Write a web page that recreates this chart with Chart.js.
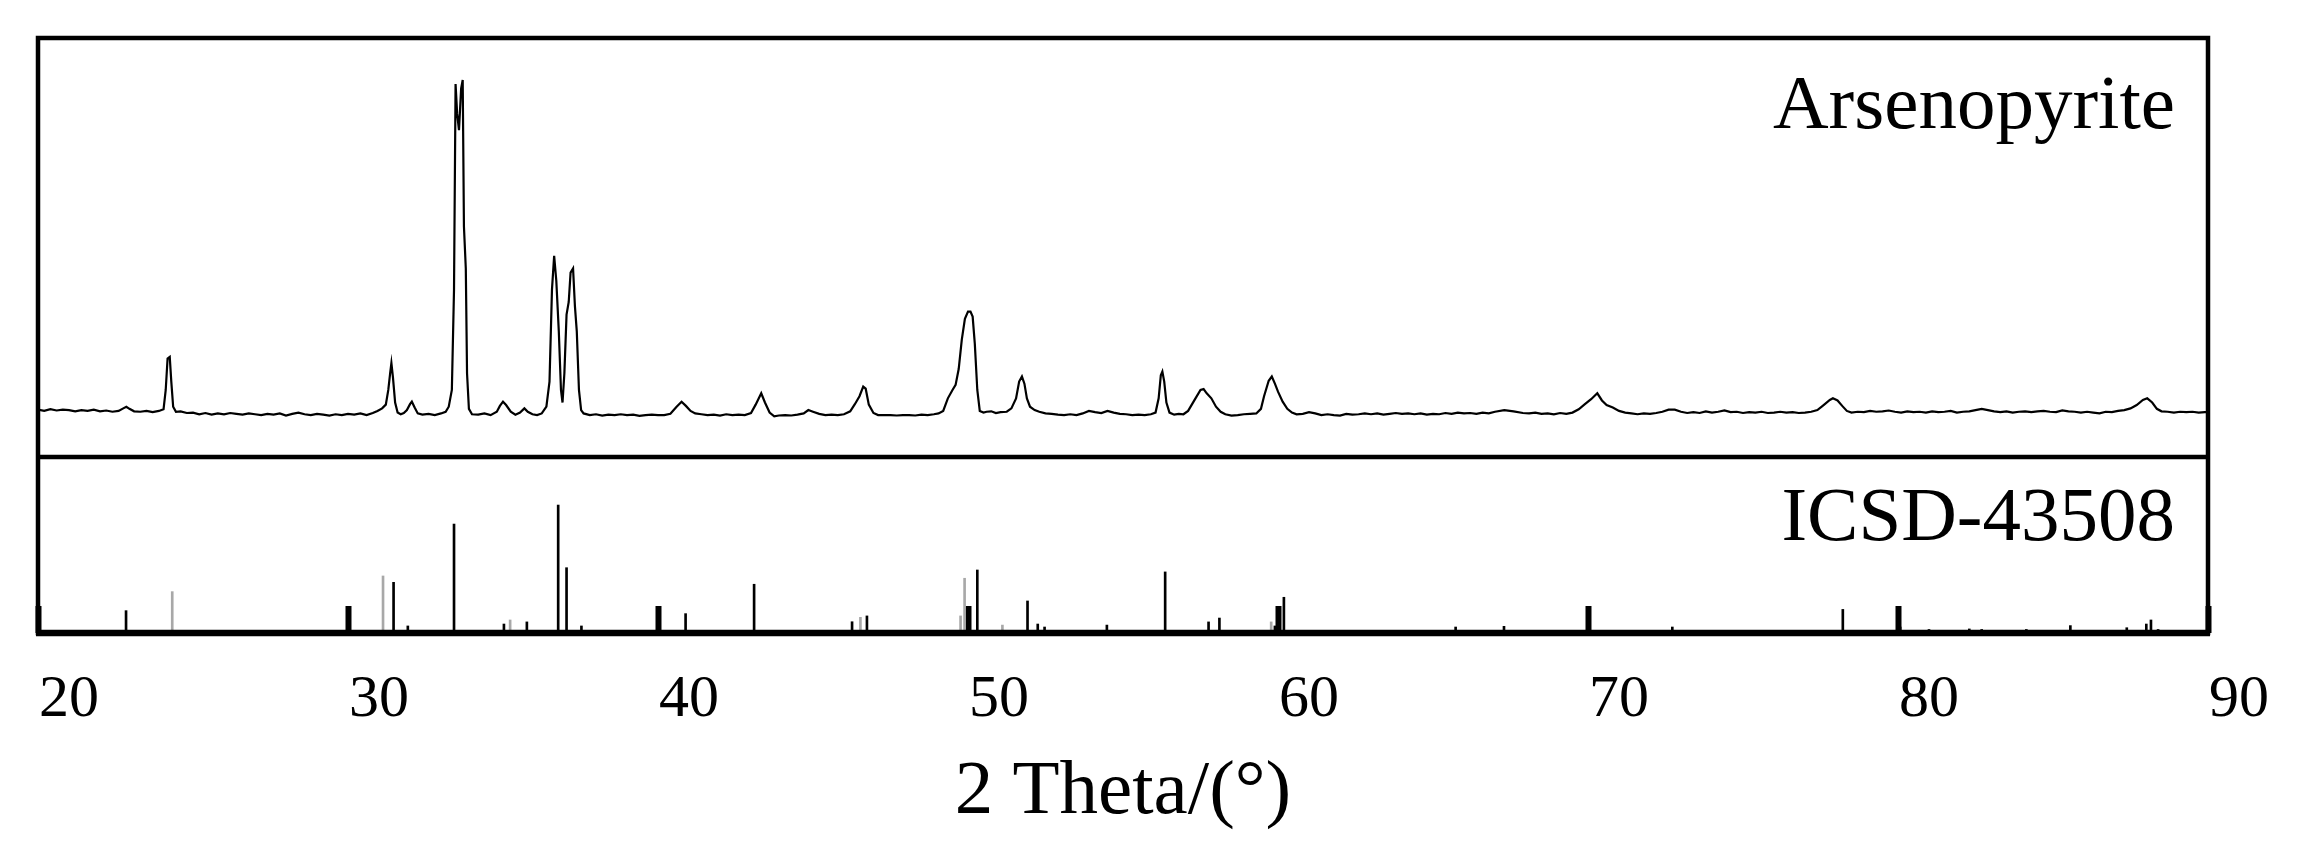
<!DOCTYPE html>
<html>
<head>
<meta charset="utf-8">
<title>Arsenopyrite XRD</title>
<script src="https://cdn.jsdelivr.net/npm/chart.js@4/dist/chart.umd.min.js"></script>
<style>
  html, body { margin: 0; padding: 0; background: #fff; }
  canvas { display: block; }
</style>
</head>
<body>
<canvas id="xrdChart" width="2298" height="859" style="width:2298px;height:859px"></canvas>
<script>
const arsenopyrite = [
  [20.0,11.3],[20.2,11.0],[20.4,11.4],[20.6,11.1],[20.8,11.3],[21.0,11.2],[21.2,10.9],[21.4,11.2],[21.6,11.0],[21.8,11.3],
  [22.0,10.9],[22.2,11.1],[22.4,10.8],[22.6,11.0],[22.75,11.6],[22.85,12.0],[22.95,11.5],[23.1,10.9],[23.3,10.8],[23.5,11.0],
  [23.7,10.7],[23.9,11.0],[24.05,11.4],[24.12,16],[24.18,23.5],[24.25,23.9],[24.3,18],[24.36,12],[24.45,10.8],[24.6,10.9],
  [24.8,10.5],[25.0,10.6],[25.2,10.2],[25.4,10.5],[25.6,10.1],[25.8,10.4],[26.0,10.2],[26.2,10.5],[26.4,10.3],[26.6,10.1],
  [26.8,10.4],[27.0,10.2],[27.2,10.0],[27.4,10.3],[27.6,10.1],[27.8,10.4],[28.0,9.9],[28.2,10.3],[28.4,10.6],[28.6,10.2],
  [28.8,10.0],[29.0,10.3],[29.2,10.1],[29.4,9.9],[29.6,10.2],[29.8,10.0],[30.0,10.3],[30.2,10.1],[30.4,10.4],[30.6,10.0],
  [30.8,10.5],[30.95,11.0],[31.1,11.6],[31.22,12.5],[31.3,16],[31.36,20],[31.4,22.4],[31.45,19],[31.52,13],[31.6,10.6],
  [31.7,10.2],[31.8,10.5],[31.9,11.2],[32.0,12.6],[32.06,13.2],[32.15,11.8],[32.25,10.4],[32.4,10.1],[32.6,10.3],[32.8,10.0],
  [33.0,10.4],[33.15,10.8],[33.25,12],[33.35,16],[33.42,40],[33.47,89],[33.52,82],[33.58,78],[33.65,88],[33.7,90],
  [33.74,55],[33.8,45],[33.84,20],[33.9,11.5],[34.0,10.2],[34.2,10.1],[34.4,10.4],[34.6,10.0],[34.8,10.8],[34.9,12.2],
  [35.0,13.2],[35.1,12.4],[35.25,10.8],[35.4,10.1],[35.55,10.6],[35.69,11.6],[35.8,10.8],[35.95,10.2],[36.1,10.0],[36.25,10.4],
  [36.4,12],[36.5,18],[36.58,40],[36.65,48],[36.72,42],[36.8,30],[36.87,16],[36.92,13],[36.98,20],[37.05,34],
  [37.12,37],[37.18,44],[37.26,45],[37.32,36],[37.38,30],[37.45,16],[37.52,11.2],[37.6,10.4],[37.8,10.0],[38.0,10.2],
  [38.2,9.9],[38.4,10.1],[38.6,10.0],[38.8,10.2],[39.0,10.0],[39.2,10.1],[39.4,9.8],[39.6,10.0],[39.8,10.1],[40.0,10.0],
  [40.2,10.0],[40.4,10.3],[40.6,12.0],[40.76,13.2],[40.9,12.2],[41.05,11.0],[41.2,10.4],[41.4,10.2],[41.6,10.0],[41.8,10.1],
  [42.0,9.9],[42.2,10.2],[42.4,10.0],[42.6,10.1],[42.8,10.0],[43.0,10.5],[43.15,12.5],[43.33,15.2],[43.45,13],[43.6,10.6],
  [43.75,9.7],[43.9,9.9],[44.1,10.0],[44.3,9.9],[44.5,10.1],[44.7,10.4],[44.85,11.2],[45.0,10.8],[45.2,10.3],[45.4,10.0],
  [45.6,10.1],[45.8,10.0],[46.0,10.2],[46.2,10.9],[46.35,12.6],[46.5,14.5],[46.62,16.8],[46.7,16.3],[46.8,12.5],[46.95,10.5],
  [47.1,10.0],[47.3,10.0],[47.5,10.0],[47.7,9.9],[47.9,10.0],[48.1,10.0],[48.3,9.9],[48.5,10.1],[48.7,10.0],[48.9,10.2],
  [49.05,10.4],[49.2,11.0],[49.35,14],[49.5,16.0],[49.6,17.2],[49.7,21],[49.8,28],[49.9,33],[50.0,34.7],[50.08,34.7],
  [50.15,33.5],[50.22,27],[50.3,16],[50.38,11],[50.5,10.6],[50.6,10.8],[50.75,10.9],[50.9,10.5],[51.05,10.7],[51.25,10.8],
  [51.4,11.6],[51.55,14],[51.65,18],[51.74,19.2],[51.82,17.5],[51.9,14],[52.0,12],[52.15,11.2],[52.3,10.8],[52.5,10.4],
  [52.7,10.3],[52.9,10.1],[53.1,10.0],[53.3,10.2],[53.5,10.0],[53.7,10.4],[53.9,11.0],[54.1,10.7],[54.3,10.5],[54.5,11.0],
  [54.7,10.6],[54.9,10.3],[55.1,10.2],[55.3,10.0],[55.5,10.1],[55.7,10.0],[55.9,10.2],[56.05,10.6],[56.15,14],[56.22,19.5],
  [56.27,20.4],[56.33,18],[56.4,13],[56.5,10.6],[56.65,10.1],[56.8,10.3],[56.95,10.2],[57.1,11.0],[57.3,13.5],[57.5,16.0],
  [57.6,16.2],[57.7,15.2],[57.85,14.0],[58.0,12.0],[58.15,10.8],[58.3,10.2],[58.5,9.9],[58.7,10.0],[58.9,10.2],[59.1,10.3],
  [59.3,10.4],[59.45,11.5],[59.55,14.5],[59.7,18.2],[59.8,19.2],[59.9,17.5],[60.0,15.6],[60.15,13.2],[60.3,11.5],[60.45,10.6],
  [60.6,10.2],[60.8,10.3],[61.0,10.7],[61.2,10.4],[61.4,10.0],[61.6,10.2],[61.8,10.0],[62.0,9.9],[62.2,10.3],[62.4,10.1],
  [62.6,10.2],[62.8,10.4],[63.0,10.2],[63.2,10.4],[63.4,10.1],[63.6,10.3],[63.8,10.5],[64.0,10.3],[64.2,10.4],[64.4,10.2],
  [64.6,10.4],[64.8,10.1],[65.0,10.3],[65.2,10.2],[65.4,10.5],[65.6,10.3],[65.8,10.6],[66.0,10.4],[66.2,10.5],[66.4,10.3],
  [66.6,10.6],[66.8,10.4],[67.0,10.8],[67.3,11.2],[67.6,10.9],[67.9,10.5],[68.1,10.4],[68.3,10.6],[68.5,10.3],[68.7,10.4],
  [68.9,10.2],[69.1,10.5],[69.3,10.3],[69.5,10.6],[69.7,11.4],[69.9,12.6],[70.1,13.8],[70.3,15.2],[70.45,13.5],[70.6,12.4],
  [70.8,11.8],[71.0,11.0],[71.2,10.6],[71.4,10.4],[71.6,10.2],[71.8,10.4],[72.0,10.3],[72.2,10.5],[72.4,10.8],[72.6,11.3],
  [72.8,11.3],[73.0,10.8],[73.2,10.5],[73.4,10.7],[73.6,10.5],[73.8,10.9],[74.0,10.6],[74.2,10.8],[74.4,11.1],[74.6,10.7],
  [74.8,10.8],[75.0,10.5],[75.2,10.7],[75.4,10.6],[75.6,10.8],[75.8,10.5],[76.0,10.6],[76.2,10.8],[76.4,10.6],[76.6,10.7],
  [76.8,10.5],[77.0,10.6],[77.2,10.8],[77.4,11.2],[77.6,12.4],[77.8,13.6],[77.9,14.0],[78.05,13.5],[78.2,12.2],[78.35,11.0],
  [78.5,10.6],[78.7,10.8],[78.9,10.7],[79.1,11.0],[79.3,10.8],[79.5,10.9],[79.7,11.1],[79.9,10.8],[80.1,10.6],[80.3,10.9],
  [80.5,10.7],[80.7,10.8],[80.9,10.6],[81.1,10.9],[81.3,10.7],[81.5,10.8],[81.7,11.0],[81.9,10.6],[82.1,10.8],[82.3,10.9],
  [82.5,11.2],[82.7,11.5],[82.9,11.2],[83.1,10.9],[83.3,10.7],[83.5,10.9],[83.7,10.6],[83.9,10.8],[84.1,10.9],[84.3,10.7],
  [84.5,10.9],[84.7,11.0],[84.9,10.8],[85.1,10.7],[85.3,11.1],[85.5,10.9],[85.7,10.8],[85.9,10.6],[86.1,10.8],[86.3,10.6],
  [86.5,10.4],[86.7,10.8],[86.9,10.7],[87.1,11.0],[87.3,11.2],[87.5,11.6],[87.7,12.4],[87.9,13.6],[88.04,14.0],[88.2,13.0],
  [88.35,11.5],[88.5,10.9],[88.7,10.8],[88.9,10.6],[89.1,10.8],[89.3,10.7],[89.5,10.8],[89.7,10.6],[89.9,10.7],[90.0,10.7]
];

// reference card lines
const icsdTheta = [22.84, 24.33, 31.13, 31.47, 31.93, 33.42, 35.03, 35.23, 35.77, 36.78, 37.05, 37.53,
  40.89, 43.10, 46.26, 46.53, 46.74, 49.76, 49.89, 50.30, 51.11, 51.92, 52.25, 52.47, 54.48,
  56.36, 57.76, 58.11, 59.78, 59.90, 60.19, 65.73, 67.29, 72.72, 72.90, 74.51, 78.22, 80.07, 81.00, 82.30,
  82.70, 84.14, 85.56, 87.38, 88.01, 88.16, 88.39];
const icsdIntensity = [12.7, 23.5, 32.4, 28.8, 4.0, 61.9, 5.1, 7.4, 6.3, 72.7, 37.1, 4.0,
  11.0, 27.7, 6.4, 8.9, 9.7, 9.7, 31.1, 35.8, 4.5, 18.2, 5.1, 3.4, 4.5,
  34.7, 6.3, 8.5, 6.3, 4.0, 20.3, 3.4, 3.8, 3.4, 1.5, 1.5, 13.4, 3.4, 2.0, 2.3,
  2.0, 2.0, 4.2, 3.0, 5.1, 7.4, 2.0];
// lines printed in grey on the card
const icsdFaint = [24.33, 31.13, 35.23, 46.53, 49.76, 49.89, 51.11, 59.78];

const panelLabels = ["Arsenopyrite", "ICSD-43508"];
const xTitle = "2 Theta/(°)";
const xMin = 20;
const xMax = 90;
const xStep = 10;

const serif = '"Liberation Serif", "Times New Roman", serif';

// frame round both panels, divider and panel names
const framePlugin = {
  id: "frame",
  afterDraw(chart) {
    const { ctx, chartArea: a, scales } = chart;
    ctx.save();
    ctx.strokeStyle = "#000";
    ctx.lineWidth = 4.5;
    ctx.strokeRect(a.left, a.top, a.right - a.left, a.bottom - a.top);
    ctx.beginPath();
    ctx.moveTo(a.left, scales.yPattern.bottom);
    ctx.lineTo(a.right, scales.yPattern.bottom);
    ctx.stroke();
    // bottom axis is a little heavier
    ctx.lineWidth = 6.5;
    ctx.beginPath();
    ctx.moveTo(a.left - 2, a.bottom);
    ctx.lineTo(a.right + 2, a.bottom);
    ctx.stroke();

    ctx.fillStyle = "#000";
    ctx.font = "77px " + serif;
    ctx.textAlign = "right";
    ctx.textBaseline = "alphabetic";
    ctx.fillText(panelLabels[0], a.right - 33, scales.yPattern.top + 90);
    ctx.fillText(panelLabels[1], a.right - 33, scales.yStick.top + 83);
    ctx.restore();
  },
};

const hiddenY = (weight) => ({
  type: "linear",
  position: "left",
  stack: "panels",
  stackWeight: weight,
  min: 0,
  max: 100,
  ticks: { display: false },
  grid: { display: false, drawTicks: false },
  border: { display: false },
});

const ctx = document.getElementById("xrdChart").getContext("2d");
new Chart(ctx, {
  type: "line",
  data: {
    datasets: [
      {
        label: panelLabels[0],
        data: arsenopyrite.map(([x, y]) => ({ x, y })),
        xAxisID: "x",
        yAxisID: "yPattern",
        borderColor: "#000",
        borderWidth: 2.2,
        pointRadius: 0,
        tension: 0,
      },
      {
        type: "bar",
        label: panelLabels[1],
        data: icsdTheta.map((x, i) => ({ x, y: icsdIntensity[i] })),
        xAxisID: "x",
        yAxisID: "yStick",
        backgroundColor: (c) =>
          c.raw && icsdFaint.includes(c.raw.x) ? "#a8a8a8" : "#000",
        borderWidth: 0,
        barThickness: 2,
        grouped: false,
      },
    ],
  },
  options: {
    responsive: false,
    devicePixelRatio: 1,
    animation: false,
    layout: { padding: { left: 38, right: 90, top: 38, bottom: 0 } },
    plugins: { legend: { display: false }, tooltip: { enabled: false } },
    scales: {
      x: {
        type: "linear",
        position: "bottom",
        offset: false,
        min: xMin,
        max: xMax,
        // labels hang off the frame, so keep the plot width fixed by the layout padding
        afterFit(scale) {
          scale.paddingLeft = 0;
          scale.paddingRight = 0;
        },
        ticks: {
          stepSize: xStep,
          autoSkip: false,
          maxRotation: 0,
          padding: 64,
          labelOffset: 31,
          color: "#000",
          font: { family: serif, size: 60, lineHeight: 1 },
        },
        grid: {
          display: true,
          offset: false,
          drawOnChartArea: false,
          drawTicks: true,
          tickLength: -27,
          tickWidth: 6,
          tickColor: "#000",
        },
        border: { display: false },
        title: {
          display: true,
          text: xTitle,
          color: "#000",
          font: { family: serif, size: 77, lineHeight: 1 },
          padding: { top: -39.5, bottom: 27.5 },
        },
      },
      yStick: hiddenY(176),
      yPattern: hiddenY(419),
    },
  },
  plugins: [framePlugin],
});
</script>
</body>
</html>
